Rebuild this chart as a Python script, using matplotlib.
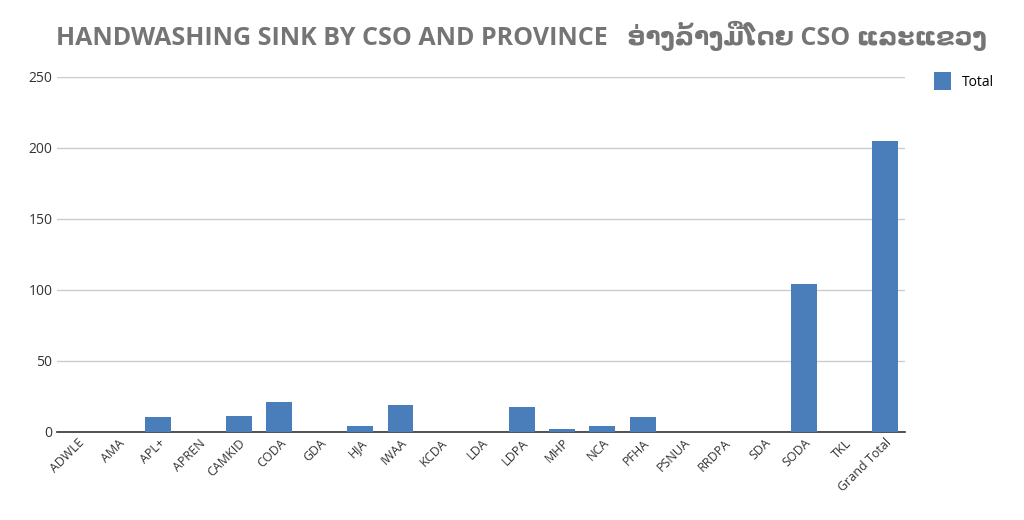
import matplotlib.pyplot as plt

plt.rcParams['font.family'] = ['Open Sans', 'DejaVu Sans']

categories = ['ADWLE', 'AMA', 'APL+', 'APREN', 'CAMKID', 'CODA', 'GDA', 'HJA', 'IWAA',
              'KCDA', 'LDA', 'LDPA', 'MHP', 'NCA', 'PFHA', 'PSNUA', 'RRDPA', 'SDA',
              'SODA', 'TKL', 'Grand Total']
totals = [0, 0, 10, 0, 11, 21, 0, 4, 19, 0, 0, 17, 2, 4, 10, 0, 0, 0, 104, 0, 205]

fig = plt.figure(figsize=(10.24, 5.2), dpi=100)
ax = fig.add_axes([0.056, 0.17, 0.828, 0.682])

ax.bar(range(len(categories)), totals, width=0.64, color='#4a7ebb', label='Total', zorder=3)
ax.set_xlim(-0.5, len(categories) - 0.5)
ax.set_ylim(0, 250)
ax.set_yticks([0, 50, 100, 150, 200, 250])
ax.grid(axis='y', color='#cccccc', linewidth=1, zorder=0)
ax.set_xticks(range(len(categories)))
ax.set_xticklabels(categories, rotation=45, ha='right', rotation_mode='anchor', fontsize=9, color='#333333')
ax.tick_params(axis='y', labelsize=10, colors='#333333', length=0)
ax.tick_params(axis='x', length=0)
for s in ['top', 'right', 'left']:
    ax.spines[s].set_visible(False)
ax.spines['bottom'].set_color('#333333')
ax.spines['bottom'].set_linewidth(1.2)

fig.text(0.055, 0.93, 'HANDWASHING SINK BY CSO AND PROVINCE   ອ່າງລ້າງມືໂດຍ CSO ແລະແຂວງ',
         fontsize=18, fontweight='bold', color='#757575', va='center',
         family=['Open Sans', 'DejaVu Sans'])

fig.legend(loc='upper left', bbox_to_anchor=(0.9, 0.885), frameon=False, fontsize=10,
           handlelength=1.2, handleheight=1.6)

fig.savefig('out.png')
